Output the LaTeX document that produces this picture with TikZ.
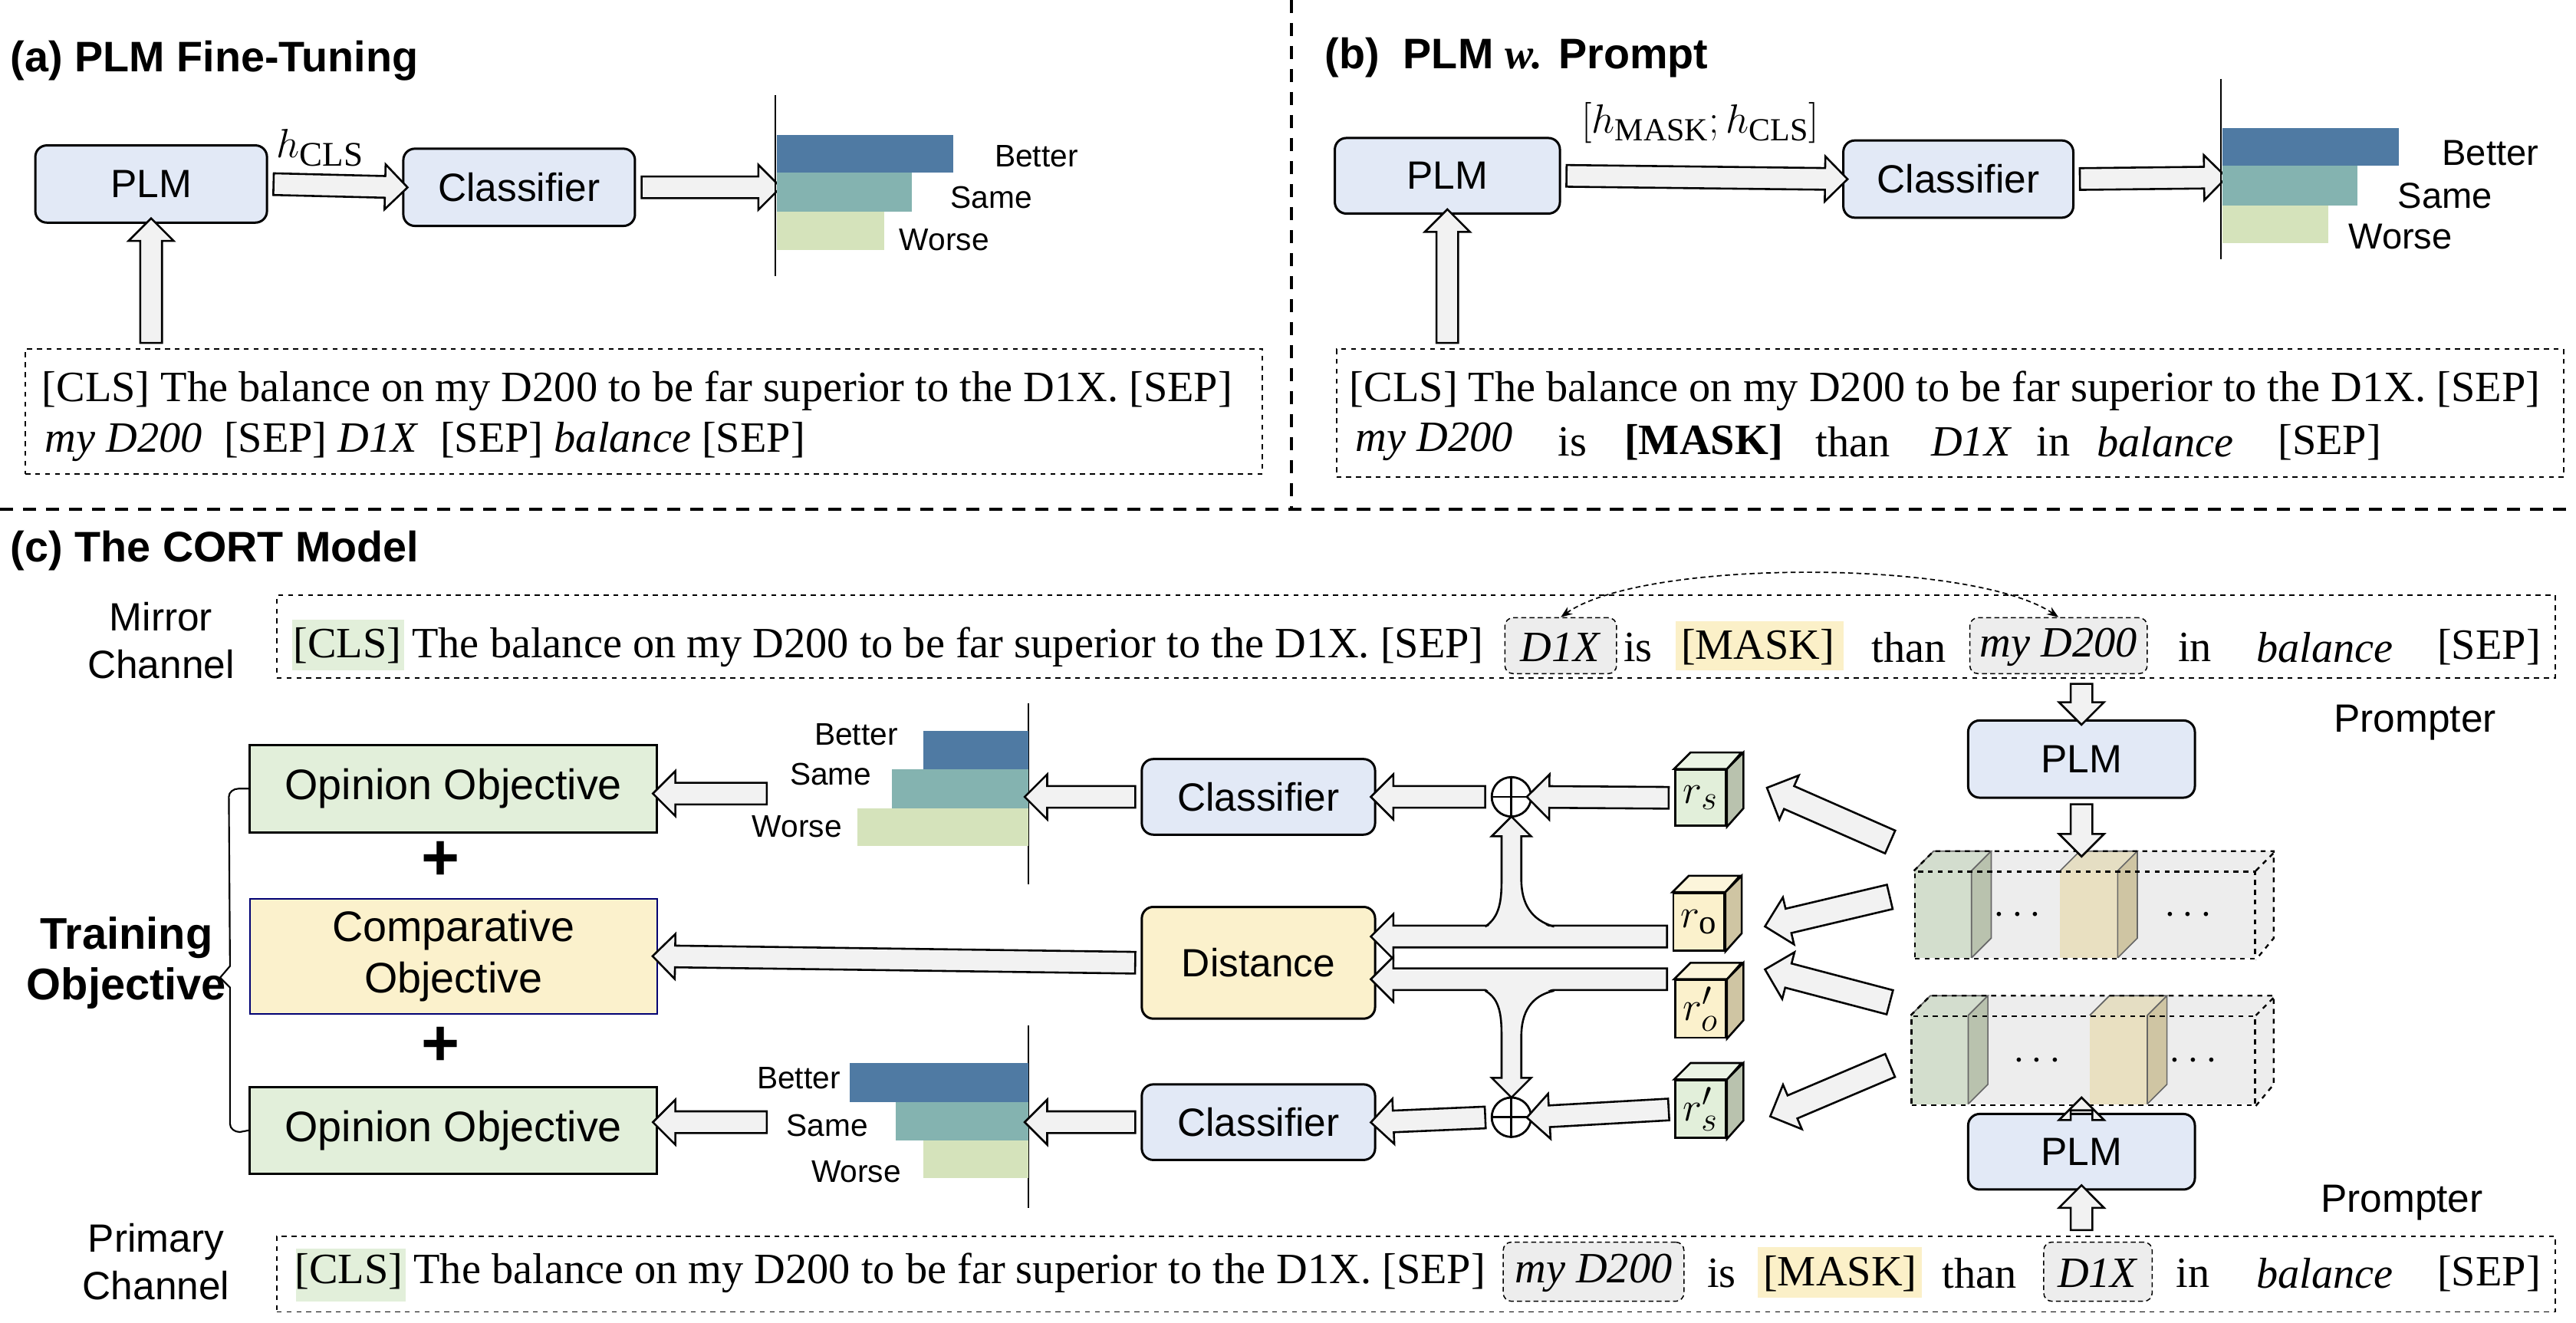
\documentclass[tikz,border=0pt]{standalone}
\usepackage{fontspec}
\setmainfont{Liberation Serif}
\setsansfont{Liberation Sans}
\usetikzlibrary{shapes.arrows,calc,arrows.meta}
\definecolor{bluebox}{HTML}{E2E9F6}
\definecolor{greenbox}{HTML}{E2EFDA}
\definecolor{yelbox}{HTML}{FBF1CC}
\definecolor{gside}{HTML}{B9C2AE}
\definecolor{yside}{HTML}{CFC5A3}
\definecolor{barA}{HTML}{4F7AA3}
\definecolor{barB}{HTML}{84B3B0}
\definecolor{barC}{HTML}{D5E3BB}
\definecolor{arrfill}{HTML}{F2F2F2}
\definecolor{hlgreen}{HTML}{E2EFDA}
\definecolor{hlyel}{HTML}{FBF0C8}
\definecolor{hlgrey}{HTML}{EDEDED}
\tikzset{
  sf/.style={font=\sffamily\fontsize{24}{26}\selectfont},
  rm/.style={font=\rmfamily\fontsize{26.3}{30}\selectfont},
  box/.style={draw,line width=1.4pt,rounded corners=7pt,fill=bluebox,sf},
  obj/.style={draw,line width=1.4pt,fill=greenbox,font=\sffamily\fontsize{26}{30}\selectfont},
  barr/.style={single arrow,draw,line width=1.2pt,fill=arrfill,inner xsep=0pt,inner ysep=6pt,minimum width=23pt,single arrow head indent=0pt,anchor=center},
  dbox/.style={draw,dashed,line width=0.9pt},
  gdash/.style={draw,densely dashed,rounded corners=5pt,fill=hlgrey,line width=0.7pt},
  cubef/.style={draw,line width=1.2pt,font=\fontsize{30}{30}\selectfont,inner sep=0pt},
  ttl/.style={anchor=west,font=\sffamily\bfseries\fontsize{26}{28}\selectfont},
}
\newcommand\barrow[3][]{\path let \p1=($(#3)-(#2)$), \n1={atan2(\y1,\x1)}, \n2={veclen(\x1,\y1)} in node[barr,minimum height=\n2,rotate=\n1,#1] at ($(#2)!0.5!(#3)$) {};}
\newcommand\cube[8]{%
  \node[cubef,fill=#6,minimum width=#4pt,minimum height=#5pt,anchor=north west] (#1) at (#2,#3) {#8};
  \draw[line width=1.2pt,fill=#6!70!white] (#1.north west) -- ++(10,-10) -- ++(#4,0) -- (#1.north east) -- cycle;
  \draw[line width=1.2pt,fill=#7] (#1.north east) -- ++(10,-10) -- ++(0,#5) -- (#1.south east) -- cycle;}
\begin{document}
\begin{tikzpicture}[x=1pt,y=-1pt]
\useasboundingbox (0,0) rectangle (1568,805);
\draw[line width=1.8pt,dash pattern=on 8pt off 6pt] (0,310) -- (1568,310);
\draw[line width=1.8pt,dash pattern=on 8pt off 6pt] (786,0) -- (786,310);
% ---------- (a)
\node[ttl] (ta) at (3,37) {(a) PLM Fine-Tuning};
\node[box,minimum width=141pt,minimum height=47pt] (plma) at (92,112) {PLM};
\node[box,minimum width=141pt,minimum height=47pt] (clsa) at (316,114) {Classifier};
\barrow{plma.east}{clsa.west}
\node[font=\fontsize{30}{30}\selectfont] (hcls) at (195,90) {$h_{\mathrm{CLS}}$};
\coordinate (axa) at (472,114);
\barrow{clsa.east}{axa}
\draw[line width=0.8pt] (472,58) -- (472,168);
\fill[barA] (473,82) rectangle (580,105);
\fill[barB] (473,105) rectangle (555,129);
\fill[barC] (473,129) rectangle (538,152);
\node[font=\sffamily\fontsize{19}{20}\selectfont,anchor=west] (ba) at (602,95) {Better};
\node[font=\sffamily\fontsize{19}{20}\selectfont,anchor=west] (sa) at (575,120) {Same};
\node[font=\sffamily\fontsize{19}{20}\selectfont,anchor=west] (wa) at (544,146) {Worse};
\node[dbox,minimum width=753pt,minimum height=76pt,anchor=north west] (inpa) at (15,212) {};
\node[rm,anchor=west] (la1) at (22,238) {[CLS] The balance on my D200 to be far superior to the D1X. [SEP]};
\node[rm,anchor=west] (la2) at (24,269) {\textit{my D200}\ \ [SEP] \textit{D1X}\ \ [SEP] \textit{balance} [SEP]};
\barrow{inpa.north west -| plma}{plma.south}
% ---------- (b)
\node[ttl] (tb) at (803,35) {(b)\ \ PLM \textrm{\textbf{\textit{w.}}} Prompt};
\node[box,minimum width=137pt,minimum height=46pt] (plmb) at (881,107) {PLM};
\node[box,minimum width=140pt,minimum height=47pt] (clsb) at (1192,109) {Classifier};
\barrow{plmb.east}{clsb.west}
\node[font=\fontsize{28}{30}\selectfont] (hm) at (1035,75) {$[h_{\mathrm{MASK}};h_{\mathrm{CLS}}]$};
\coordinate (axb) at (1352,108);
\barrow{clsb.east}{axb}
\draw[line width=0.8pt] (1352,48) -- (1352,158);
\fill[barA] (1353,78) rectangle (1460,101);
\fill[barB] (1353,101) rectangle (1435,125);
\fill[barC] (1353,125) rectangle (1417,148);
\node[font=\sffamily\fontsize{22}{24}\selectfont,anchor=west] (bb) at (1483,93) {Better};
\node[font=\sffamily\fontsize{22}{24}\selectfont,anchor=west] (sb) at (1456,119) {Same};
\node[font=\sffamily\fontsize{22}{24}\selectfont,anchor=west] (wb) at (1426,144) {Worse};
\node[dbox,minimum width=747pt,minimum height=78pt,anchor=north west] (inpb) at (813,212) {};
\node[rm,anchor=west] (lb1) at (818,238) {[CLS] The balance on my D200 to be far superior to the D1X. [SEP]};
\node[rm] (b1) at (873,269) {\textit{my D200}};
\node[rm] (b2) at (957,269) {is};
\node[rm] (b3) at (1037,269) {\textbf{[MASK]}};
\node[rm] (b4) at (1128,269) {than};
\node[rm] (b5) at (1200,269) {\textit{D1X}};
\node[rm] (b6) at (1250,269) {in};
\node[rm] (b7) at (1318,269) {\textit{balance}};
\node[rm] (b8) at (1418,269) {[SEP]};
\barrow{inpb.north west -| plmb}{plmb.south}
% ---------- (c)
\node[ttl] (tc) at (3,335) {(c) The CORT Model};
\node[align=center,font=\sffamily\fontsize{24}{29}\selectfont] (mc) at (98,390) {Mirror\\Channel};
\node[align=center,font=\sffamily\fontsize{24}{29}\selectfont] (pc) at (95,768) {Primary\\Channel};
% mirror
\node[dbox,minimum width=1387pt,minimum height=50pt,anchor=north west] (mir) at (168,362) {};
\fill[hlgreen] (178,377) rectangle (246,408);
\node[gdash,minimum width=68pt,minimum height=34pt] (md1x) at (950,393) {};
\fill[hlyel] (1020,378) rectangle (1122,408);
\node[gdash,minimum width=108pt,minimum height=34pt] (mmy) at (1253,393) {};
\node[rm,anchor=west] (m0) at (175,394) {[CLS] The balance on my D200 to be far superior to the D1X. [SEP]};
\node[rm] (m1) at (950,394) {\textit{D1X}};
\node[rm] (m2) at (997,394) {is};
\node[rm] (m3) at (1070,394) {[MASK]};
\node[rm] (m4) at (1162,394) {than};
\node[rm] (m5) at (1253,394) {\textit{my D200}};
\node[rm] (m6) at (1336,394) {in};
\node[rm] (m7) at (1415,394) {\textit{balance}};
\node[rm] (m8) at (1515,394) {[SEP]};
\draw[densely dashed,line width=0.8pt,{Stealth[length=7pt]}-{Stealth[length=7pt]}] (md1x.north) .. controls (1000,340) and (1200,340) .. (mmy.north);
% primary
\node[dbox,minimum width=1387pt,minimum height=46pt,anchor=north west] (pri) at (168,752) {};
\fill[hlgreen] (180,760) rectangle (247,792);
\node[gdash,minimum width=110pt,minimum height=36pt] (pmy) at (970,774) {};
\fill[hlyel] (1070,759) rectangle (1170,790);
\node[gdash,minimum width=66pt,minimum height=36pt] (pd1x) at (1277,774) {};
\node[rm,anchor=west] (p0) at (176,775) {[CLS] The balance on my D200 to be far superior to the D1X. [SEP]};
\node[rm] (p1) at (970,775) {\textit{my D200}};
\node[rm] (p2) at (1048,775) {is};
\node[rm] (p3) at (1120,775) {[MASK]};
\node[rm] (p4) at (1205,775) {than};
\node[rm] (p5) at (1277,775) {\textit{D1X}};
\node[rm] (p6) at (1335,775) {in};
\node[rm] (p7) at (1415,775) {\textit{balance}};
\node[rm] (p8) at (1515,775) {[SEP]};
% prompters
\node[sf] (pr1) at (1470,440) {Prompter};
\node[sf] (pr2) at (1462,732) {Prompter};
\node[box,minimum width=138pt,minimum height=47pt] (plmt) at (1267,462) {PLM};
\node[box,minimum width=138pt,minimum height=46pt] (plmbt) at (1267,701) {PLM};
% tensors
\fill[hlgrey] (1165,530) -- ++(12,-12) -- ++(207,0) -- ++(0,53) -- ++(-12,12) -- ++(-207,0) -- cycle;
\fill[hlgrey] (1163,618) -- ++(12,-12) -- ++(209,0) -- ++(0,54) -- ++(-12,12) -- ++(-209,0) -- cycle;
\foreach \x/\c/\s in {1165/greenbox/gside,1254/yelbox/yside}{
  \fill[\c!80!gray!90] (\x,530) -- ++(12,-12) -- ++(35,0) -- ++(-12,12) -- cycle;
  \fill[\c!85!gray] (\x,530) rectangle ++(35,53);
  \fill[\s] (\x+35,530) -- ++(12,-12) -- ++(0,53) -- ++(-12,12) -- cycle;
  \draw[gray!80!black,line width=0.8pt] (\x,530) -- ++(12,-12) -- ++(35,0) -- ++(-12,12) (\x+35,530) -- ++(0,53) (\x+47,518) -- ++(0,53) -- ++(-12,12);}
\foreach \x/\c/\s in {1163/greenbox/gside,1272/yelbox/yside}{
  \fill[\c!80!gray!90] (\x,618) -- ++(12,-12) -- ++(35,0) -- ++(-12,12) -- cycle;
  \fill[\c!85!gray] (\x,618) rectangle ++(35,54);
  \fill[\s] (\x+35,618) -- ++(12,-12) -- ++(0,54) -- ++(-12,12) -- cycle;
  \draw[gray!80!black,line width=0.8pt] (\x,618) -- ++(12,-12) -- ++(35,0) -- ++(-12,12) (\x+35,618) -- ++(0,54) (\x+47,606) -- ++(0,54) -- ++(-12,12);}
\node[dbox,line width=1.1pt,minimum width=207pt,minimum height=53pt,anchor=north west] (ten1) at (1165,530) {};
\draw[dashed,line width=1.1pt] (ten1.north west) -- ++(12,-12) -- ++(207,0) -- ++(0,53) -- (ten1.south east) (ten1.north east) -- ++(12,-12);
\node[dbox,line width=1.1pt,minimum width=209pt,minimum height=54pt,anchor=north west] (ten2) at (1163,618) {};
\draw[dashed,line width=1.1pt] (ten2.north west) -- ++(12,-12) -- ++(209,0) -- ++(0,54) -- (ten2.south east) (ten2.north east) -- ++(12,-12);
\node[rm] (dt1) at (1228,557) {$\cdots$};
\node[rm] (dt2) at (1332,557) {$\cdots$};
\node[rm] (dt3) at (1240,646) {$\cdots$};
\node[rm] (dt4) at (1335,646) {$\cdots$};
\barrow{mir.south -| plmt}{plmt.north}
\coordinate (t1top) at (1267,518);
\barrow{plmt.south}{t1top}
\barrow{plmbt.north}{ten2.south -| plmbt}
\barrow{pri.north -| plmbt}{plmbt.south}
% cubes
\cube{rs}{1019}{468}{31}{34}{greenbox}{gside}{$r_s$}
\cube{ro}{1018}{543}{31}{35}{yelbox}{yside}{$r_{\mathrm{o}}$}
\cube{rop}{1019}{596}{31}{35}{yelbox}{yside}{$r_o'$}
\cube{rsp}{1019}{657}{31}{35}{greenbox}{gside}{$r_s'$}
\coordinate (d1a) at (1154,514); \coordinate (d1b) at (1079,481);
\coordinate (d2a) at (1154,545); \coordinate (d2b) at (1078,563);
\coordinate (d3a) at (1154,611); \coordinate (d3b) at (1078,591);
\coordinate (d4a) at (1154,647); \coordinate (d4b) at (1081,678);
\barrow[inner ysep=7pt,minimum width=27pt]{d1a}{d1b}
\barrow[inner ysep=7pt,minimum width=27pt]{d2a}{d2b}
\barrow[inner ysep=7pt,minimum width=27pt]{d3a}{d3b}
\barrow[inner ysep=7pt,minimum width=27pt]{d4a}{d4b}
% middle column
\node[circle,draw,line width=1.3pt,inner sep=0pt,minimum size=24pt] (o1) at (920,485) {};
\draw[line width=1.3pt] (o1.north) -- (o1.south) (o1.west) -- (o1.east);
\node[circle,draw,line width=1.3pt,inner sep=0pt,minimum size=24pt] (o2) at (920,680) {};
\draw[line width=1.3pt] (o2.north) -- (o2.south) (o2.west) -- (o2.east);
\node[box,minimum width=142pt,minimum height=46pt] (cls1) at (766,485) {Classifier};
\node[box,minimum width=142pt,minimum height=46pt] (cls2) at (766,683) {Classifier};
\node[box,fill=yelbox,minimum width=142pt,minimum height=68pt] (dist) at (766,586) {Distance};
\barrow{rs.west}{o1.east}
\barrow{o1.west}{cls1.east}
\barrow{rsp.west}{o2.east}
\barrow{o2.west}{cls2.east}
\coordinate (roe) at (1018,570); \coordinate (rope) at (1018,596);
\barrow{roe}{dist.east |- roe}
\barrow{rope}{dist.east |- rope}
% curved branches
\fill[arrfill] (904,565.5) .. controls (913,558) and (914,548) .. (914,535) -- (914,509) -- (908,509) -- (920,497) -- (932,509) -- (926,509) -- (926,535) .. controls (926,550) and (932,560) .. (946,565.5) -- cycle;
\draw[line width=1.2pt] (904,564) .. controls (913,558) and (914,548) .. (914,535) -- (914,509) -- (908,509) -- (920,497) -- (932,509) -- (926,509) -- (926,535) .. controls (926,550) and (932,560) .. (946,564);
\fill[arrfill] (904,601.5) .. controls (913,608) and (914,618) .. (914,631) -- (914,656) -- (908,656) -- (920,668) -- (932,656) -- (926,656) -- (926,631) .. controls (926,616) and (932,606) .. (946,601.5) -- cycle;
\draw[line width=1.2pt] (904,603) .. controls (913,608) and (914,618) .. (914,631) -- (914,656) -- (908,656) -- (920,668) -- (932,656) -- (926,656) -- (926,631) .. controls (926,616) and (932,606) .. (946,603);
% objectives
\node[obj,minimum width=248pt,minimum height=53pt] (op1) at (276,480) {Opinion Objective};
\node[obj,fill=yelbox,draw=blue!45!black,line width=1pt,minimum width=248pt,minimum height=70pt,align=center,font=\sffamily\fontsize{26}{31}\selectfont] (comp) at (276,582) {Comparative\\Objective};
\node[obj,minimum width=248pt,minimum height=53pt] (op2) at (276,688) {Opinion Objective};
\node[font=\sffamily\bfseries\fontsize{40}{40}\selectfont] (pl1) at (268,524) {+};
\node[font=\sffamily\bfseries\fontsize{40}{40}\selectfont] (pl2) at (268,637) {+};
\draw[line width=1pt] (op1.west) -- ++(-6,0) to[out=180,in=90] ++(-6,5) -- (140,588) -- (134,595) -- (140,601) -- (140,684) to[out=-90,in=180] ++(6,5) -- (op2.west);
\node[align=center,font=\sffamily\bfseries\fontsize{27}{31}\selectfont] (tro) at (77,586) {Training\\Objective};
\barrow{dist.west}{comp.east}
% bar charts in (c)
\draw[line width=0.8pt] (626,428) -- (626,538);
\fill[barA] (562,445) rectangle (626,468);
\fill[barB] (543,468) rectangle (626,492);
\fill[barC] (522,492) rectangle (626,515);
\node[font=\sffamily\fontsize{19}{20}\selectfont,anchor=east] (bc1) at (550,447) {Better};
\node[font=\sffamily\fontsize{19}{20}\selectfont,anchor=east] (sc1) at (534,471) {Same};
\node[font=\sffamily\fontsize{19}{20}\selectfont,anchor=east] (wc1) at (516,503) {Worse};
\draw[line width=0.8pt] (626,624) -- (626,735);
\fill[barA] (517,647) rectangle (626,671);
\fill[barB] (545,671) rectangle (626,694);
\fill[barC] (562,694) rectangle (626,717);
\node[font=\sffamily\fontsize{19}{20}\selectfont,anchor=east] (bc2) at (515,656) {Better};
\node[font=\sffamily\fontsize{19}{20}\selectfont,anchor=east] (sc2) at (532,685) {Same};
\node[font=\sffamily\fontsize{19}{20}\selectfont,anchor=east] (wc2) at (552,713) {Worse};
\coordinate (ax1) at (627,485); \coordinate (ax2) at (627,683);
\coordinate (bs1) at (470,483); \coordinate (bs2) at (470,683);
\barrow{cls1.west}{ax1}
\barrow{cls2.west}{ax2}
\barrow{bs1}{op1.east |- bs1}
\barrow{bs2}{op2.east |- bs2}
\end{tikzpicture}
\end{document}
